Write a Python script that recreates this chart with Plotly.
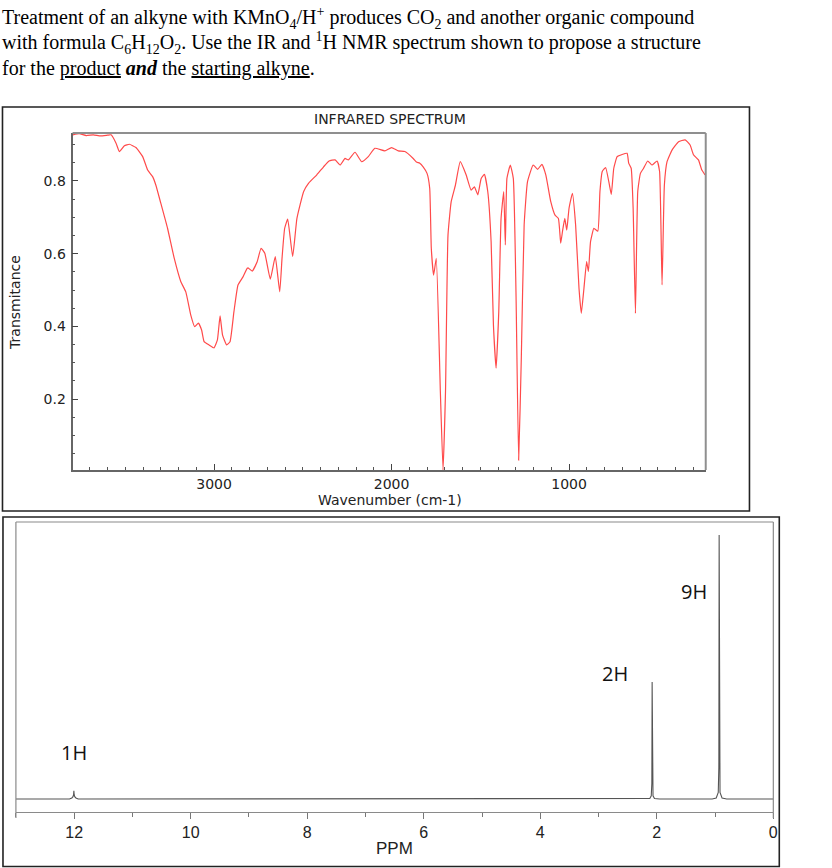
import plotly.graph_objects as go

# ---------------- IR spectrum data (wavenumber cm-1, transmittance) ----------------
ir_wavenumber = [3795, 3760, 3720, 3680, 3640, 3600, 3580, 3552, 3533, 3505, 3477, 3440, 3402,
                 3374, 3346, 3328, 3300, 3262, 3224, 3187, 3159, 3131, 3109, 3088, 3070, 3056,
                 3028, 3000, 2981, 2966, 2952, 2929, 2910, 2888, 2865, 2836, 2813, 2808, 2785,
                 2757, 2735, 2714, 2683, 2655, 2630, 2617, 2602, 2585, 2557, 2533, 2495, 2467,
                 2421, 2383, 2352, 2318, 2290, 2262, 2243, 2206, 2168, 2131, 2094, 2038, 2000,
                 1962, 1925, 1878, 1860, 1841, 1822, 1800, 1785, 1776, 1763, 1748, 1725, 1710,
                 1696, 1682, 1664, 1640, 1613, 1580, 1552, 1533, 1514, 1495, 1477, 1458, 1439,
                 1426, 1411, 1396, 1383, 1368, 1359, 1350, 1331, 1314, 1299, 1284, 1269, 1253,
                 1234, 1202, 1177, 1153, 1131, 1103, 1079, 1060, 1047, 1037, 1024, 1013, 1000,
                 981, 963, 944, 931, 916, 901, 891, 879, 860, 838, 826, 813, 794, 776, 762, 748,
                 729, 701, 673, 664, 650, 639, 626, 613, 598, 580, 557, 533, 504, 490, 476, 463,
                 448, 420, 383, 346, 318, 299, 271, 252, 234]
ir_transmittance = [0.927, 0.930, 0.925, 0.927, 0.924, 0.926, 0.927, 0.904, 0.881, 0.897, 0.901,
                    0.892, 0.867, 0.830, 0.812, 0.789, 0.739, 0.670, 0.587, 0.523, 0.495, 0.431,
                    0.399, 0.409, 0.390, 0.358, 0.349, 0.341, 0.363, 0.429, 0.376, 0.349, 0.358,
                    0.440, 0.514, 0.537, 0.560, 0.561, 0.552, 0.578, 0.615, 0.601, 0.530, 0.592,
                    0.495, 0.587, 0.670, 0.695, 0.592, 0.697, 0.771, 0.794, 0.817, 0.839, 0.855,
                    0.858, 0.844, 0.862, 0.858, 0.879, 0.853, 0.867, 0.890, 0.883, 0.892, 0.883,
                    0.881, 0.862, 0.852, 0.849, 0.839, 0.821, 0.780, 0.615, 0.541, 0.587, 0.220,
                    0.005, 0.220, 0.651, 0.743, 0.789, 0.853, 0.817, 0.775, 0.784, 0.762, 0.807,
                    0.818, 0.771, 0.633, 0.404, 0.285, 0.440, 0.697, 0.771, 0.624, 0.807, 0.844,
                    0.807, 0.495, 0.032, 0.312, 0.679, 0.798, 0.844, 0.832, 0.846, 0.817, 0.743,
                    0.706, 0.697, 0.629, 0.661, 0.697, 0.665, 0.725, 0.766, 0.679, 0.505, 0.436,
                    0.505, 0.578, 0.551, 0.633, 0.670, 0.662, 0.771, 0.826, 0.837, 0.798, 0.763,
                    0.835, 0.867, 0.873, 0.876, 0.849, 0.835, 0.725, 0.436, 0.771, 0.821, 0.835,
                    0.855, 0.844, 0.855, 0.826, 0.514, 0.789, 0.853, 0.885, 0.908, 0.913, 0.899,
                    0.872, 0.858, 0.830, 0.817]
ir_tick_values = [3000, 2000, 1000]
ir_y_ticks = [0.2, 0.4, 0.6, 0.8]

# ---------------- 1H NMR data (ppm, relative intensity) ----------------
nmr_ppm = [13.0, 12.08, 12.04, 12.02, 12.01, 12.005, 12.0, 11.99, 11.97, 11.93,
           2.2, 2.12, 2.095, 2.085, 2.08, 2.075, 2.065, 2.04, 1.95,
           1.05, 0.98, 0.945, 0.935, 0.93, 0.925, 0.915, 0.88, 0.8, 0.0]
nmr_intensity = [0.0, 0.0, 0.004, 0.009, 0.016, 0.031, 0.016, 0.009, 0.004, 0.0,
                 0.0, 0.002, 0.012, 0.06, 0.443, 0.06, 0.012, 0.002, 0.0,
                 0.0, 0.004, 0.025, 0.12, 1.0, 0.12, 0.025, 0.004, 0.0, 0.0]
nmr_labels = ["1H", "2H", "9H"]
nmr_label_ppm = [12.0, 2.71, 1.37]
nmr_label_y = [0.177, 0.474, 0.787]

W, H = 832, 868


def px(x):
    return x / W


def py(y):
    return 1 - y / H


fig = go.Figure()

fig.add_trace(go.Scatter(x=ir_wavenumber, y=ir_transmittance, mode="lines",
                         line=dict(color="#ff4a4a", width=1.2, shape="spline", smoothing=0.4),
                         xaxis="x", yaxis="y", showlegend=False, hoverinfo="skip",
                         cliponaxis=True))
fig.add_trace(go.Scatter(x=nmr_ppm, y=nmr_intensity, mode="lines",
                         line=dict(color="#555555", width=1.1), xaxis="x2", yaxis="y2",
                         showlegend=False, hoverinfo="skip"))

ir_font = dict(family="DejaVu Sans", size=14, color="#222")
nmr_font = dict(family="Liberation Sans", size=16, color="#222")

fig.update_layout(
    width=W, height=H, autosize=False,
    margin=dict(l=0, r=0, t=0, b=0),
    paper_bgcolor="white", plot_bgcolor="white",
    xaxis=dict(domain=[px(73), px(710)], range=[3797, 230], anchor="y",
               tickvals=ir_tick_values, ticks="inside", ticklen=6, tickcolor="#444",
               tickwidth=1.2, tickfont=ir_font, ticklabelstandoff=0,
               showgrid=False, zeroline=False,
               showline=True, linecolor="#666", linewidth=1.8,
               minor=dict(dtick=100, tick0=0, ticks="inside", ticklen=3, tickcolor="#555",
                          showgrid=False)),
    yaxis=dict(domain=[py(470), py(133)], range=[0.005, 0.932], anchor="x",
               tickvals=ir_y_ticks, ticktext=[f"{v:.1f}" for v in ir_y_ticks],
               ticks="inside", ticklen=6, tickcolor="#444", tickwidth=1.2,
               tickfont=ir_font, ticklabelstandoff=2, showgrid=False, zeroline=False,
               showline=True, linecolor="#666", linewidth=1.8,
               minor=dict(dtick=0.05, tick0=0, ticks="inside", ticklen=3, tickcolor="#555",
                          showgrid=False)),
    xaxis2=dict(domain=[px(16), px(778)], range=[13, 0], anchor="y2",
                dtick=2, tick0=0, ticks="outside", ticklen=6, tickcolor="#777",
                tickfont=nmr_font, showgrid=False, zeroline=False,
                showline=True, linecolor="#8a8a8a", linewidth=1.2,
                minor=dict(dtick=1, tick0=0, ticks="outside", ticklen=4, tickcolor="#777",
                           showgrid=False)),
    yaxis2=dict(domain=[py(812), py(522)], range=[-0.0492, 1.0492], anchor="x2",
                visible=False),
)

shapes = []
# IR outer box
shapes.append(dict(type="rect", xref="paper", yref="paper", x0=px(2.5), x1=px(754),
                   y0=py(511), y1=py(107), line=dict(color="#222", width=1.6)))
# IR plot frame (top / right in gray)
shapes.append(dict(type="line", xref="paper", yref="paper", x0=px(73), x1=px(710),
                   y0=py(133), y1=py(133), line=dict(color="#8f8f8f", width=2.2)))
shapes.append(dict(type="line", xref="paper", yref="paper", x0=px(710), x1=px(710),
                   y0=py(133), y1=py(470), line=dict(color="#8f8f8f", width=2)))
# NMR outer box
shapes.append(dict(type="rect", xref="paper", yref="paper", x0=px(3), x1=px(784),
                   y0=py(866.5), y1=py(517), line=dict(color="#222", width=1.6)))
# NMR inner frame
shapes.append(dict(type="line", xref="paper", yref="paper", x0=px(16), x1=px(778),
                   y0=py(522), y1=py(522), line=dict(color="#8a8a8a", width=1.2)))
shapes.append(dict(type="line", xref="paper", yref="paper", x0=px(16), x1=px(16),
                   y0=py(522), y1=py(818), line=dict(color="#8a8a8a", width=1.2)))
shapes.append(dict(type="line", xref="paper", yref="paper", x0=px(778), x1=px(778),
                   y0=py(522), y1=py(818), line=dict(color="#8a8a8a", width=1.2)))
fig.update_layout(shapes=shapes)

serif = dict(family="Liberation Serif", size=20, color="black")
ul = '<span style="text-decoration:underline">'
lines = [
    "Treatment of an alkyne with KMnO<sub>4</sub>/H<sup>+</sup> produces CO<sub>2</sub> and another organic compound",
    "with formula C<sub>6</sub>H<sub>12</sub>O<sub>2</sub>. Use the IR and <sup>1</sup>H NMR spectrum shown to propose a structure",
    "for the " + ul + "product</span> <b><i>and</i></b> the " + ul + "starting alkyne</span>.",
]
line_y = [18, 43, 68]

annotations = []
for t, yy in zip(lines, line_y):
    annotations.append(dict(text=t, xref="paper", yref="paper", x=px(0.5), y=py(yy),
                            xanchor="left", yanchor="middle", showarrow=False, font=serif))

annotations.append(dict(text="INFRARED SPECTRUM", xref="paper", yref="paper", x=px(392),
                        y=py(119), xanchor="center", yanchor="middle", showarrow=False,
                        font=ir_font))
annotations.append(dict(text="Wavenumber (cm-1)", xref="paper", yref="paper", x=px(392),
                        y=py(500), xanchor="center", yanchor="middle", showarrow=False,
                        font=ir_font))
annotations.append(dict(text="Transmitance", xref="paper", yref="paper", x=px(15),
                        y=py(302), xanchor="center", yanchor="middle", showarrow=False,
                        textangle=-90, font=ir_font))
annotations.append(dict(text="PPM", xref="paper", yref="paper", x=px(397),
                        y=py(848), xanchor="center", yanchor="middle", showarrow=False,
                        font=dict(family="Liberation Sans", size=17, color="#222")))
for lab, xp, yv in zip(nmr_labels, nmr_label_ppm, nmr_label_y):
    annotations.append(dict(text=lab, xref="x2", yref="y2", x=xp, y=yv,
                            xanchor="center", yanchor="middle", showarrow=False,
                            font=dict(family="Open Sans", size=20, color="#111")))
fig.update_layout(annotations=annotations)

fig.write_html("out.html")
